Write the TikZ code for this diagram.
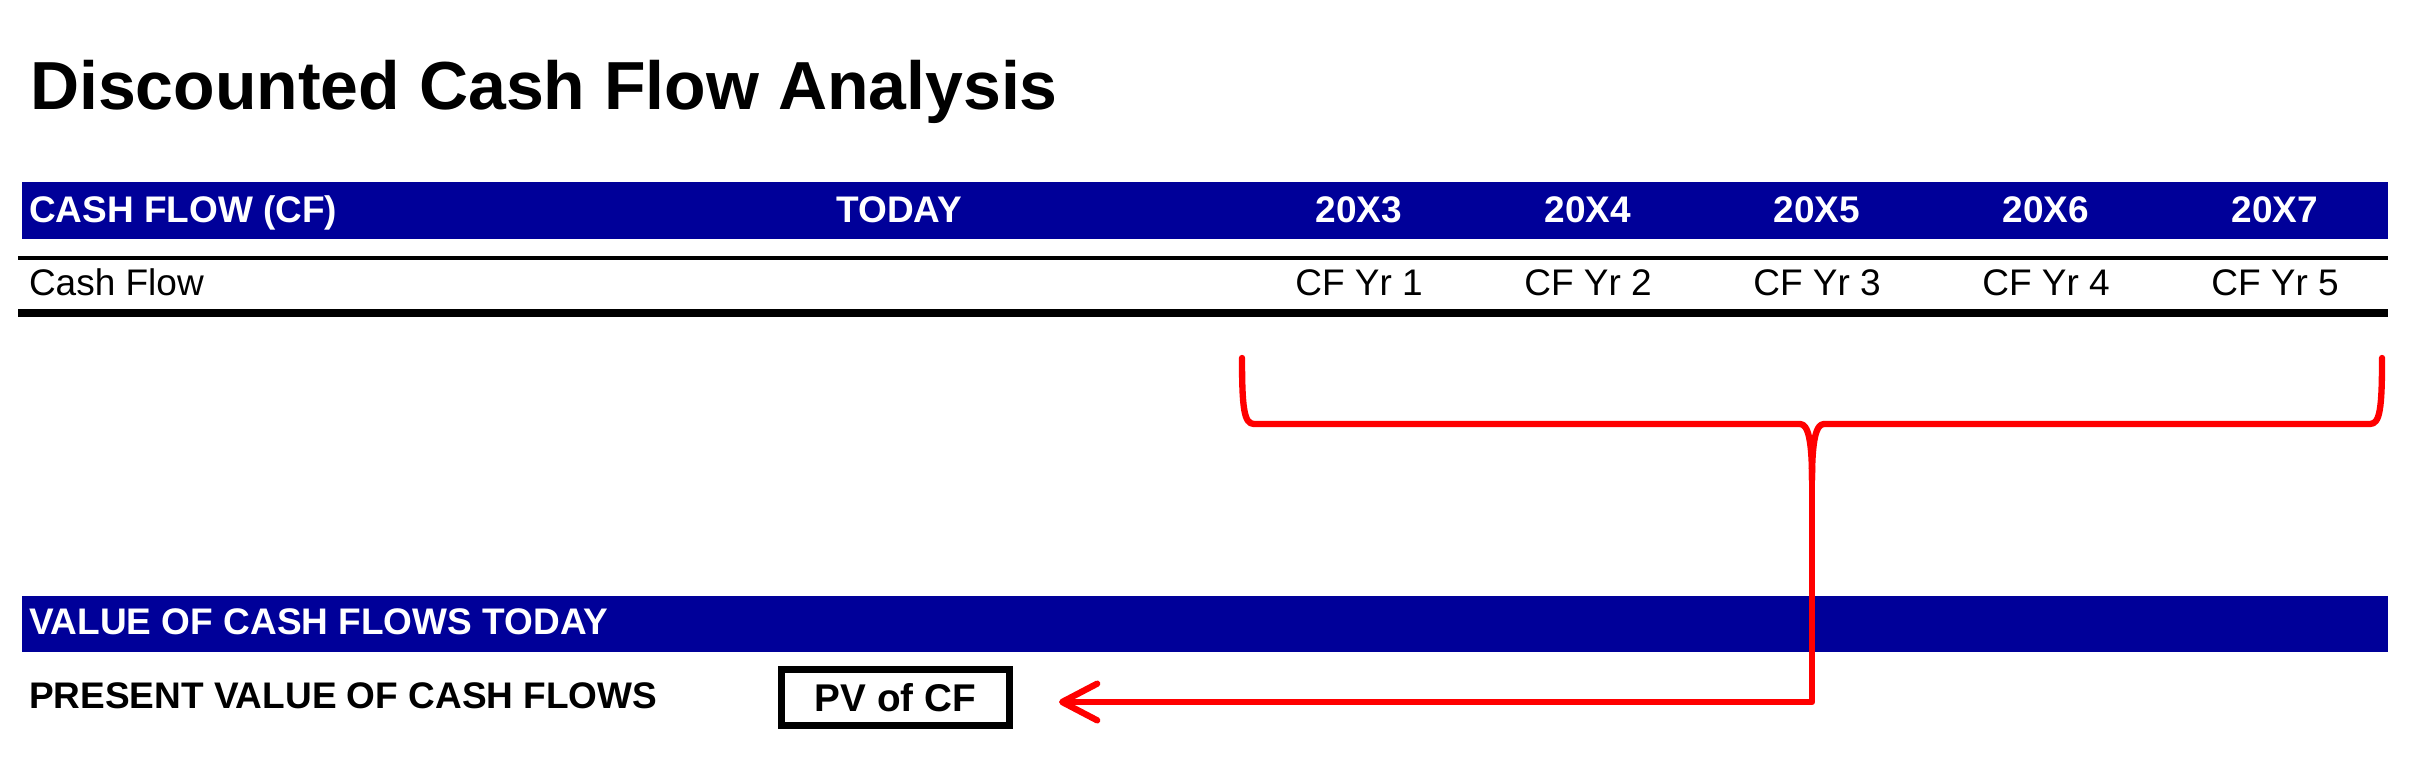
\documentclass[tikz,border=0pt]{standalone}
\usepackage{fontspec}
\setmainfont{Liberation Sans}
\usetikzlibrary{arrows.meta}
\definecolor{hdrblue}{RGB}{0,0,153}
\begin{document}
\begin{tikzpicture}[x=0.3pt,y=-0.3pt,
  txt/.style={inner sep=0pt,outer sep=0pt,font=\fontsize{11.1}{13}\selectfont},
  btxt/.style={txt,font=\fontsize{11.1}{13}\selectfont\bfseries},
  wtxt/.style={btxt,text=white},
  hdrbar/.style={fill=hdrblue,draw=none},
  redline/.style={draw=red,line width=1.9pt,line join=round,line cap=round},
  pvbox/.style={draw=black,line width=2.1pt,minimum width=228*0.3pt,minimum height=56*0.3pt,inner sep=0pt,font=\fontsize{11.6}{13}\selectfont\bfseries}
]
\useasboundingbox[fill=white] (0,0) rectangle (2412,760);

% title
\node[txt,anchor=base west,font=\fontsize{20.4}{24}\selectfont\bfseries] (title) at (30,110) {Discounted Cash Flow Analysis};

% header bar 1
\path[hdrbar] (22,182) rectangle (2388,239);
\node[wtxt,anchor=base west] (hcf) at (29,222) {CASH FLOW (CF)};
\node[wtxt,anchor=base] (htoday) at (899,222) {TODAY};
\foreach \i/\y in {0/20X3,1/20X4,2/20X5,3/20X6,4/20X7}{
  \node[wtxt,anchor=base] (hy\i) at (1359+229*\i,222) {\y};
}

% rows
\draw[line width=1.2pt] (18,258) -- (2388,258);
\node[txt,anchor=base west] (rcf) at (29,295) {Cash Flow};
\foreach \i in {1,...,5}{
  \node[txt,anchor=base] (cf\i) at (1359+229*\i-229,295) {CF Yr \i};
}
\draw[line width=2.3pt] (18,313) -- (2388,313);

% header bar 2
\path[hdrbar] (22,596) rectangle (2388,652);
\node[wtxt,anchor=base west] (hval) at (29,634) {VALUE OF CASH FLOWS TODAY};
\node[btxt,anchor=base west] (pvlabel) at (29,708) {PRESENT VALUE OF CASH FLOWS};

% PV box
\node[pvbox] (pv) at (895.5,697.5) {PV of CF};

% bracket
\coordinate (bl) at (1242,358);
\coordinate (br) at (2382,358);
\coordinate (cusp) at (1812,480);
\coordinate (tip) at (1059,702);
\draw[redline] (bl) .. controls (1242,408) and (1244,424) .. (1254,424)
  -- (1800,424) .. controls (1808,424) and (1812,440) .. (cusp);
\draw[redline] (br) .. controls (2382,408) and (2380,424) .. (2370,424)
  -- (1824,424) .. controls (1816,424) and (1812,440) .. (cusp);
\draw[redline,-{Straight Barb[length=10.5pt,width=11pt,round]}] (cusp) |- (tip);
\end{tikzpicture}
\end{document}
